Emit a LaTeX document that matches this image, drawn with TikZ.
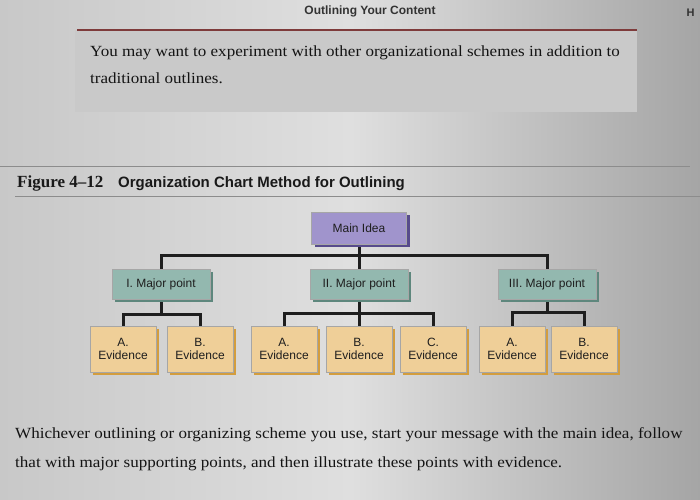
\documentclass[tikz,border=0pt]{standalone}
\usepackage{fontspec}
\setmainfont{Liberation Serif}
\setsansfont{Liberation Sans}
\usetikzlibrary{shadows}
\pgfdeclarelayer{bgpage}
\pgfdeclarelayer{lines}
\pgfsetlayers{bgpage,lines,main}
\definecolor{pagel}{HTML}{C8C8C8}
\definecolor{pagem}{HTML}{DFDFDF}
\definecolor{pager}{HTML}{A5A5A5}
\definecolor{calloutc}{HTML}{C9C9C9}
\definecolor{rulered}{HTML}{7E3B3B}
\definecolor{purplef}{HTML}{A094CC}
\definecolor{purples}{HTML}{574B8C}
\definecolor{tealf}{HTML}{93B8AF}
\definecolor{teals}{HTML}{5E877D}
\definecolor{evf}{HTML}{EFCF98}
\definecolor{evs}{HTML}{D39D3E}
\definecolor{inkc}{HTML}{1E1E1E}
\newcommand{\widetext}[1]{\scalebox{1.10}[1]{#1}}
\tikzset{
  boxbase/.style={font=\sffamily\fontsize{12}{13.5}\selectfont, text=inkc, align=center, inner sep=1pt, draw=black!35, line width=0.4pt},
  mainbox/.style={boxbase, fill=purplef, minimum width=95pt, minimum height=32pt,
     drop shadow={shadow xshift=3pt, shadow yshift=-3pt, fill=purples, opacity=1}},
  majbox/.style={boxbase, fill=tealf, minimum width=98pt, minimum height=30pt,
     drop shadow={shadow xshift=3pt, shadow yshift=-3pt, fill=teals, opacity=1}},
  evbox/.style={boxbase, fill=evf, minimum width=66pt, minimum height=46pt,
     drop shadow={shadow xshift=3pt, shadow yshift=-3pt, fill=evs, opacity=1}},
  conn/.style={draw=inkc, line width=3pt},
  bodytext/.style={font=\fontsize{15.5}{18}\selectfont, text=black!92, inner sep=0pt, anchor=base west},
}
\begin{document}
\begin{tikzpicture}[x=1pt,y=-1pt]
\useasboundingbox (0,0) rectangle (700,499);
\clip (0,0) rectangle (700,499);
\begin{pgfonlayer}{bgpage}
  \shade[left color=pagel, right color=pager, middle color=pagem] (0,0) rectangle (700,499);
  \fill[calloutc] (75,30) rectangle (637,112);
  \draw[rulered, line width=1.5pt] (77,30) -- (637,30);
  \draw[black!45, line width=0.8pt] (0,166) -- (690,166);
  \draw[black!45, line width=0.8pt] (15,196) -- (700,196);
\end{pgfonlayer}
% page header
\node[font=\sffamily\bfseries\fontsize{12}{14}\selectfont, text=black!80, anchor=base] (hdr) at (370,14) {Outlining Your Content};
\node[font=\sffamily\bfseries\fontsize{11}{13}\selectfont, text=black!80, anchor=base east] (hdrR) at (698,16) {H};
% callout text
\node[bodytext] (c1) at (90,56) {\widetext{You may want to experiment with other organizational schemes in addition to}};
\node[bodytext] (c2) at (90,83) {\widetext{traditional outlines.}};
% figure title
\node[font=\bfseries\fontsize{17}{19}\selectfont, text=black!90, inner sep=0pt, anchor=base west] (fignum) at (17,187) {Figure 4–12};
\node[font=\sffamily\bfseries\fontsize{15}{17}\selectfont, text=black!90, inner sep=0pt, anchor=base west] (figtitle) at (118,187) {Organization Chart Method for Outlining};
% chart
\node[mainbox] (main) at (359,228) {Main Idea};
\node[majbox] (m1) at (161,284) {I. Major point};
\node[majbox] (m2) at (359,284) {II. Major point};
\node[majbox] (m3) at (547,284) {III. Major point};
\node[evbox] (e1a) at (123,349) {A.\\Evidence};
\node[evbox] (e1b) at (200,349) {B.\\Evidence};
\node[evbox] (e2a) at (284,349) {A.\\Evidence};
\node[evbox] (e2b) at (359,349) {B.\\Evidence};
\node[evbox] (e2c) at (433,349) {C.\\Evidence};
\node[evbox] (e3a) at (512,349) {A.\\Evidence};
\node[evbox] (e3b) at (584,349) {B.\\Evidence};
\coordinate (j0) at (359,255);
\coordinate (j1) at (161,314);
\coordinate (j2) at (359,313);
\coordinate (j3) at (547,312);
\begin{pgfonlayer}{lines}
  \draw[conn] (main.south) -- (j0);
  \draw[conn] (m1.north) |- (j0) -| (m3.north);
  \draw[conn] (j0) -- (m2.north);
  \draw[conn] (m1.south) -- (j1);
  \draw[conn] (e1a.north) |- (j1) -| (e1b.north);
  \draw[conn] (m2.south) -- (j2) -- (e2b.north);
  \draw[conn] (e2a.north) |- (j2) -| (e2c.north);
  \draw[conn] (m3.south) -- (j3);
  \draw[conn] (e3a.north) |- (j3) -| (e3b.north);
\end{pgfonlayer}
% closing text
\node[bodytext] (b1) at (15,438) {\widetext{Whichever outlining or organizing scheme you use, start your message with the main idea, follow}};
\node[bodytext] (b2) at (15,467) {\widetext{that with major supporting points, and then illustrate these points with evidence.}};
\end{tikzpicture}
\end{document}
